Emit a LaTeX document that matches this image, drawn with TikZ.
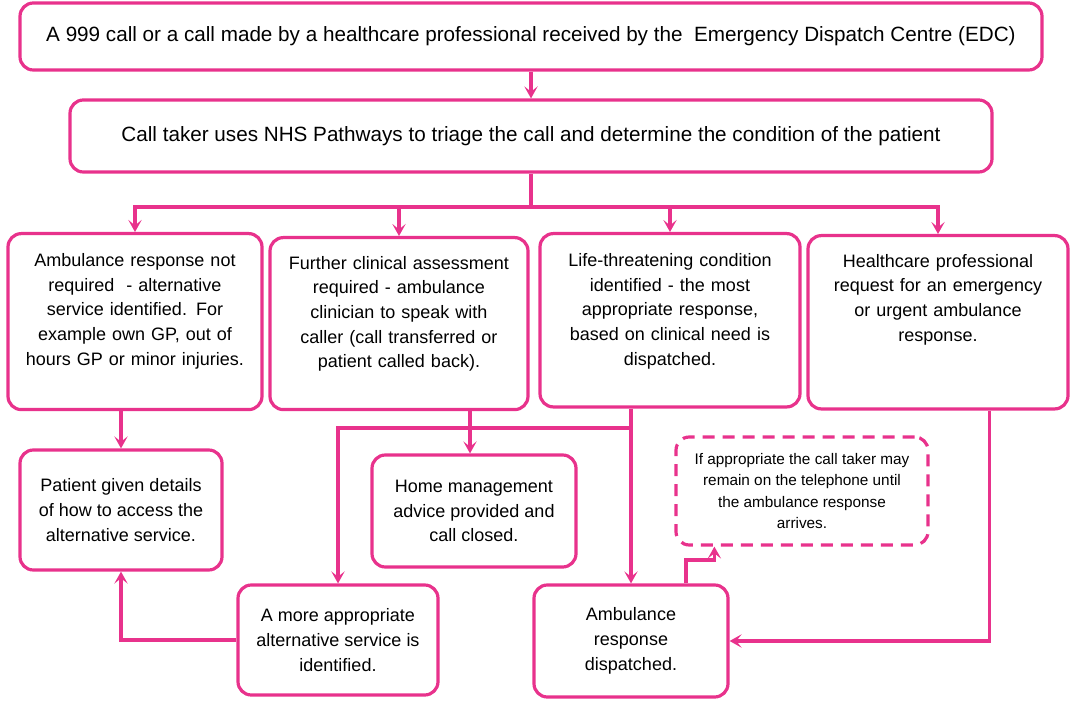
\documentclass[tikz,border=0pt]{standalone}
\usepackage{fontspec}
\setmainfont{Liberation Sans}
\usetikzlibrary{arrows.meta,positioning}
\definecolor{nhspink}{RGB}{232,50,140}
\newcommand\toptext[2]{\parbox[c][#1][t]{\linewidth}{\centering #2}}
\tikzset{
  box/.style={draw=nhspink, line width=2.4pt, rounded corners=10pt, fill=white,
    align=center, inner sep=2pt, font=\fontsize{13.5}{18.5}\selectfont},
  colbox/.style={box, anchor=north, text width=#1*0.75pt-12pt, inner ysep=0pt, inner xsep=6pt},
  dbox/.style={box, dashed, dash pattern=on 9pt off 6pt, font=\fontsize{11.5}{15.8}\selectfont},
  arr/.style={draw=nhspink, line width=2.4pt, -{Stealth[length=9pt,width=10pt,inset=4pt]}},
  ln/.style={draw=nhspink, line width=2.4pt},
}
\begin{document}
\begin{tikzpicture}[x=0.75pt,y=-0.75pt]
  \useasboundingbox (0,0) rectangle (1072,702);

  % top boxes
  \node[box, minimum width=1022*0.75pt, minimum height=67*0.75pt, font=\fontsize{15.5}{18}\selectfont] (edc) at (531,36.5)
    {A 999 call or a call made by a healthcare professional received by the \ Emergency Dispatch Centre (EDC)};
  \node[box, minimum width=922*0.75pt, minimum height=72*0.75pt, font=\fontsize{15.5}{18}\selectfont] (triage) at (531,136)
    {Call taker uses NHS Pathways to triage the call and determine the condition of the patient};

  % four outcomes
  \node[colbox=254] (notreq) at (135,232)
    {\toptext{132pt}{\vspace{15pt}Ambulance response not\\required \ - alternative\\service identified. For\\example own GP, out of\\hours GP or minor injuries.}};
  \node[colbox=258] (further) at (399,236)
    {\toptext{129pt}{\vspace{14pt}Further clinical assessment\\required - ambulance\\clinician to speak with\\caller (call transferred or\\patient called back).}};
  \node[colbox=260] (life) at (670,232)
    {\toptext{130pt}{\vspace{15pt}Life-threatening condition\\identified - the most\\appropriate response,\\based on clinical need is\\dispatched.}};
  \node[colbox=260] (hcp) at (938,234)
    {\toptext{130pt}{\vspace{14pt}Healthcare professional\\request for an emergency\\or urgent ambulance\\response.}};

  % lower boxes
  \node[box, minimum width=202*0.75pt, minimum height=120*0.75pt] (details) at (121,510)
    {Patient given details\\of how to access the\\alternative service.};
  \node[box, minimum width=204*0.75pt, minimum height=112*0.75pt] (home) at (474,511)
    {Home management\\advice provided and\\call closed.};
  \node[dbox, minimum width=252*0.75pt, minimum height=108*0.75pt] (phone) at (802,491)
    {If appropriate the call taker may\\remain on the telephone until\\the ambulance response\\arrives.};
  \node[box, minimum width=200*0.75pt, minimum height=110*0.75pt] (altserv) at (338,640)
    {A more appropriate\\alternative service is\\identified.};
  \node[box, minimum width=194*0.75pt, minimum height=112*0.75pt] (dispatch) at (631,641)
    {Ambulance\\response\\dispatched.};

  % connectors
  \coordinate (split) at (531,207);
  \coordinate (mid) at (470,428);
  \coordinate (rd) at (686,560);
  \draw[arr] (edc.south) -- (triage.north);
  \draw[ln] (triage.south) -- (split);
  \draw[arr] (split) -| (notreq.north);
  \draw[arr] (split) -| (further.north);
  \draw[arr] (split) -| (life.north);
  \draw[arr] (split) -| (hcp.north);
  \draw[arr] (details.north |- notreq.south) -- (details.north);
  \draw[arr] (mid |- further.south) -- (mid |- home.north);
  \draw[arr] (mid) -| (altserv.north);
  \draw[ln] (mid) -- (dispatch.north |- mid);
  \draw[arr] (dispatch.north |- life.south) -- (dispatch.north);
  \draw[arr] (rd |- dispatch.north) -- (rd) -| ([xshift=40*0.75pt]phone.south west);
  \draw[arr] ([xshift=-80*0.75pt]hcp.south east) |- (dispatch.east);
  \draw[arr] (altserv.west) -| (details.south);
\end{tikzpicture}
\end{document}
